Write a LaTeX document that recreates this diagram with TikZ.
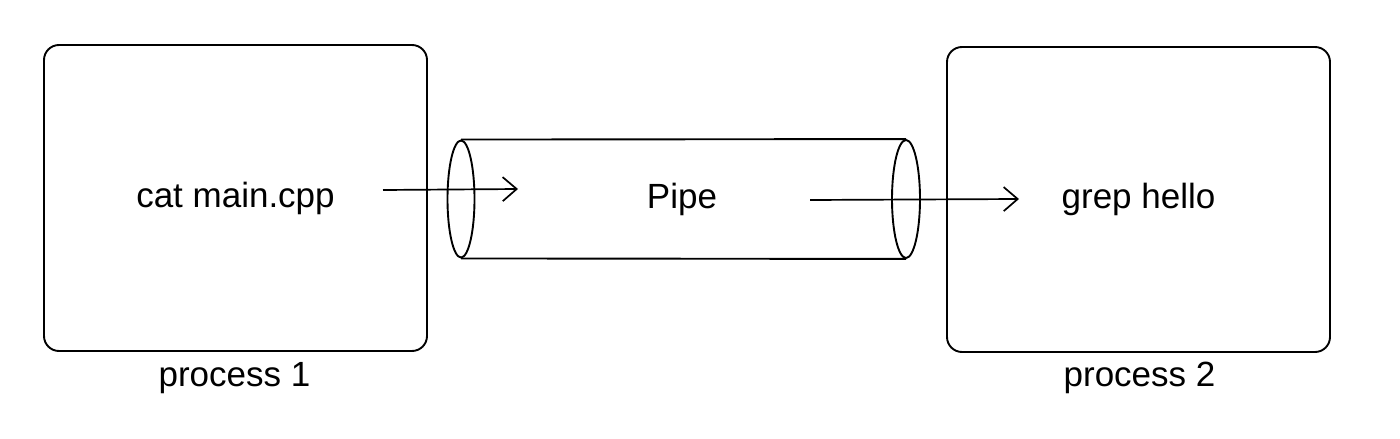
\documentclass[tikz,border=0pt]{standalone}
\usepackage{fontspec}
\setmainfont{Liberation Sans}
\usetikzlibrary{arrows.meta,shapes.geometric}
\begin{document}
\begin{tikzpicture}[x=1pt,y=-1pt,
  every node/.style={font=\fontsize{35}{41}\selectfont},
  procbox/.style={draw,line width=1.9pt,rounded corners=15pt,inner sep=0pt},
  pipeend/.style={draw,ellipse,line width=1.9pt,inner sep=0pt},
  label/.style={anchor=base,inner sep=0pt},
  flow/.style={line width=1.7pt,-{Straight Barb[length=14pt,width=24pt,line width=1.7pt]}}
]
\useasboundingbox (0,0) rectangle (1400,439);
% process boxes
\node[procbox,minimum width=383pt,minimum height=306pt] (p1) at (235.5,198) {};
\node[procbox,minimum width=383pt,minimum height=305pt] (p2) at (1138.5,199.5) {};
% pipe ends
\node[pipeend,minimum width=27pt,minimum height=117pt] (e1) at (461,199) {};
\node[pipeend,minimum width=28pt,minimum height=118pt] (e2) at (906,199) {};
\draw[line width=1.9pt] (e1.north) -- (e2.north);
\draw[line width=1.9pt] (e1.south) -- (e2.south);
% texts
\node[label] (t1) at (235.5,207) {cat main.cpp};
\node[label] (t2) at (682,208) {Pipe};
\node[label] (t3) at (1138.5,208) {grep hello};
\node[label] (l1) at (234.5,386) {process 1};
\node[label] (l2) at (1139.5,386) {process 2};
% arrows
\coordinate (a1s) at (383,190);
\coordinate (a1e) at (518,189);
\coordinate (a2s) at (810,200);
\coordinate (a2e) at (1019,199);
\draw[flow] (a1s) -- (a1e);
\draw[flow] (a2s) -- (a2e);
\end{tikzpicture}
\end{document}
